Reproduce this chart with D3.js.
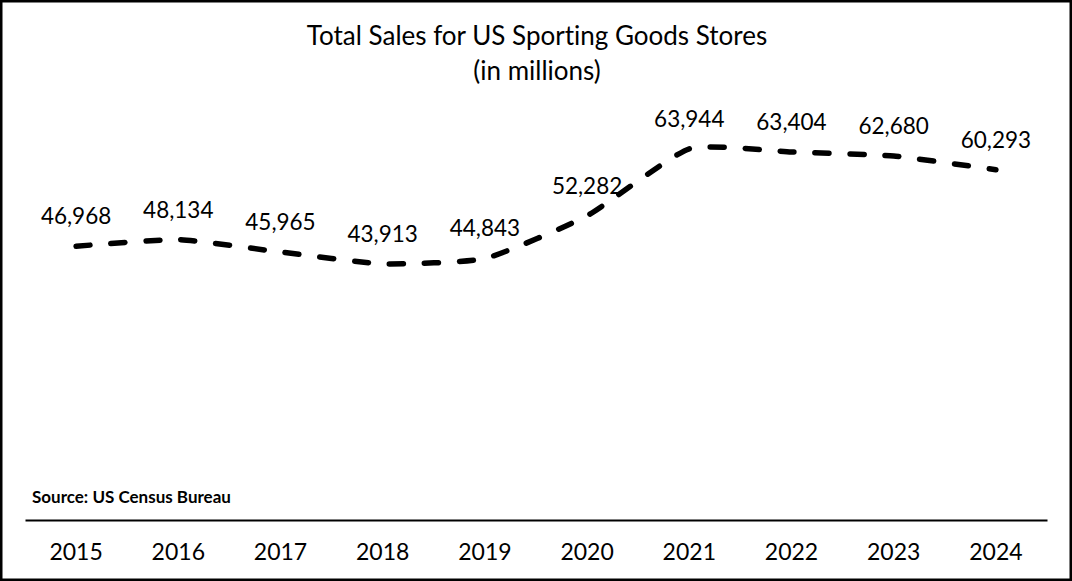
<!DOCTYPE html>
<html>
<head>
<meta charset="utf-8">
<script src="https://cdn.jsdelivr.net/npm/d3@7"></script>
<style>
  html, body { margin: 0; padding: 0; background: #fff; }
  svg { display: block; }
  text { font-family: Lato, "Open Sans", sans-serif; fill: #000; font-variant-ligatures: none; font-feature-settings: "liga" 0, "clig" 0; }
</style>
</head>
<body>
<svg id="chart" width="1072" height="581"></svg>
<script>
const years = ["2015","2016","2017","2018","2019","2020","2021","2022","2023","2024"];
const sales = [46968, 48134, 45965, 43913, 44843, 52282, 63944, 63404, 62680, 60293];
const titleLines = ["Total Sales for US Sporting Goods Stores", "(in millions)"];
const sourceText = "Source: US Census Bureau";

const W = 1072, H = 581;
const svg = d3.select("#chart");

svg.append("rect").attr("x", 1.25).attr("y", 1.25).attr("width", W - 2.5).attr("height", H - 2.5)
  .attr("fill", "#fff").attr("stroke", "#000").attr("stroke-width", 2.5);

const x = d3.scaleBand().domain(years).range([25, 1047]);
const y = d3.scaleLinear().domain([0, 70000]).range([516, 114]);

// title
svg.append("g").selectAll("text").data(titleLines).join("text")
  .attr("x", 537).attr("y", (d, i) => 45 + i * 35)
  .attr("text-anchor", "middle").attr("font-size", 26).text(d => d);

// x axis
const xAxis = svg.append("g").attr("transform", "translate(0,520)")
  .call(d3.axisBottom(x).tickSize(0).tickPadding(0));
xAxis.select(".domain").attr("stroke", "#000").attr("stroke-width", 2);
xAxis.selectAll(".tick text").attr("dy", null).attr("y", 40)
  .attr("font-size", 23).attr("font-family", "Lato, sans-serif");

// source
svg.append("text").attr("x", 32).attr("y", 503).attr("font-size", 17).attr("font-weight", "bold")
  .text(sourceText);

// line
const pts = years.map((yr, i) => ({ yr, v: sales[i] }));
const line = d3.line()
  .x(d => x(d.yr) + x.bandwidth() / 2)
  .y(d => y(d.v))
  .curve(d3.curveCardinal.tension(0.5));

svg.append("path").datum(pts).attr("d", line)
  .attr("fill", "none").attr("stroke", "#000").attr("stroke-width", 5.5)
  .attr("stroke-linecap", "round").attr("stroke-dasharray", "14,21");

// labels
svg.append("g").selectAll("text").data(pts).join("text")
  .attr("x", d => x(d.yr) + x.bandwidth() / 2)
  .attr("y", d => y(d.v) - 22)
  .attr("text-anchor", "middle").attr("font-size", 22.5)
  .text(d => d3.format(",")(d.v));
</script>
</body>
</html>
